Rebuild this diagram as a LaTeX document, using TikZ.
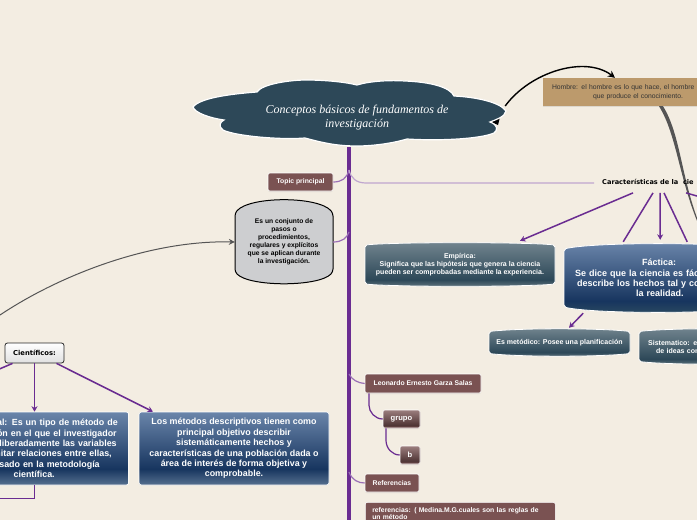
\documentclass[tikz,border=0pt]{standalone}
\usepackage{fontspec}
\setmainfont{Liberation Sans}
\newfontfamily\titlefont{Liberation Serif}
\newfontfamily\widefont{DejaVu Sans}
\usetikzlibrary{arrows.meta,shadows}

\definecolor{paper}{HTML}{F3EDE2}
\definecolor{spine}{HTML}{6A2C91}
\definecolor{spinelight}{HTML}{9A6FB5}
\definecolor{branchpale}{HTML}{BFA6CF}
\definecolor{cloudblue}{HTML}{2D4858}
\definecolor{slatetop}{HTML}{71848E}
\definecolor{slatelow}{HTML}{62767F}
\definecolor{wood}{HTML}{BC9A6C}
\definecolor{brownbox}{HTML}{7A5252}
\definecolor{drum}{HTML}{CDCED0}
\definecolor{curvegray}{HTML}{555555}
\definecolor{navy}{HTML}{17355F}
\definecolor{navytop}{HTML}{6A85AA}
\definecolor{navylow}{HTML}{56708F}
\definecolor{factlow}{HTML}{2B4A60}

\pgfdeclareverticalshading{slateshade}{100bp}{
  color(0bp)=(slatelow); color(25bp)=(slatelow); color(33bp)=(cloudblue); color(75bp)=(slatetop); color(100bp)=(slatetop)}
\pgfdeclareverticalshading{factshade}{100bp}{
  color(0bp)=(factlow); color(25bp)=(factlow); color(34bp)=(navy); color(75bp)=(navytop); color(100bp)=(navytop)}
\pgfdeclareverticalshading{cardshade}{100bp}{
  color(0bp)=(navylow); color(25bp)=(navylow); color(36bp)=(navy); color(75bp)=(navytop); color(100bp)=(navytop)}
\pgfdeclareverticalshading{grupshade}{100bp}{
  color(0bp)=(brownbox); color(25bp)=(brownbox); color(33bp)=(brownbox!65!black); color(75bp)=(brownbox!75!white); color(100bp)=(brownbox!75!white)}
\pgfdeclareverticalshading{knobshade}{100bp}{
  color(0bp)=(black!12); color(25bp)=(black!12); color(75bp)=(white); color(100bp)=(white)}

% lens with bowed top and bottom; the text node goes on top of it
\newcommand{\lensbody}[6]{
  \shade[shading=#6,draw=white,line width=.8pt,rounded corners=2pt]
    (#1,#2+#5) .. controls (#1+30,#2) and (#3-30,#2) .. (#3,#2+#5)
    -- (#3,#4-#5) .. controls (#3-30,#4) and (#1+30,#4) .. (#1,#4-#5) -- cycle;
}

\tikzset{
  trunk/.style={draw=spine,line width=3.7pt},
  branch/.style={draw=spinelight,line width=1.2pt},
  subbranch/.style={draw=spine,line width=1.2pt},
  link/.style={draw=spine,line width=1.5pt,-{Stealth[length=5.5pt,width=6pt]}},
  plainlink/.style={draw=spine,line width=1.5pt},
  topicbox/.style={draw=white,line width=.6pt,fill=brownbox,rounded corners=2pt,text=white,
    font=\fontsize{6.8}{8}\selectfont\bfseries,inner sep=0pt,
    drop shadow={opacity=.15,shadow xshift=0pt,shadow yshift=-1pt}},
  lenstext/.style={text=white,font=\fontsize{7}{8}\selectfont\bfseries,inner sep=0pt,align=center},
  cardbox/.style={draw=white,line width=.6pt,shading=cardshade,rounded corners=2.5pt,text=white,
    font=\fontsize{8.9}{10.4}\selectfont\bfseries,inner ysep=0pt},
}

\begin{document}
\begin{tikzpicture}[x=1pt,y=-1pt]
  \useasboundingbox (0,0) rectangle (697,520);
  \clip (0,0) rectangle (697,520);
  \fill[paper] (0,0) rectangle (697,520);

  \coordinate (spinebot) at (349,522);
  \coordinate (offleft) at (0,315);
  \coordinate (offright) at (700,228);
  \coordinate (jtopic) at (349,170);
  \coordinate (jdrum) at (349,232);
  \coordinate (jleonardo) at (349,374);
  \coordinate (jrefs) at (349,472);

  % cloud
  \fill[black] (489,121) -- (500,117) -- (498,125) -- cycle;
  \path[fill=cloudblue,draw=white,line width=1.2pt]
    (193,107) .. controls (200,98) and (230,94) .. (257,92)
    .. controls (262,84) and (290,80) .. (306,80)
    .. controls (325,80) and (345,82) .. (357,85)
    .. controls (370,81) and (390,80) .. (405,81)
    .. controls (430,82) and (450,87) .. (454,96)
    .. controls (475,97) and (500,102) .. (506,111)
    .. controls (505,117) and (495,120) .. (490,122)
    .. controls (498,125) and (498,130) .. (494,133)
    .. controls (480,139) and (440,141) .. (407,139)
    .. controls (390,144) and (370,146) .. (357,146)
    .. controls (335,146) and (320,142) .. (305,138)
    .. controls (280,140) and (235,136) .. (223,130)
    .. controls (218,126) and (220,122) .. (224,120)
    .. controls (210,118) and (195,113) .. (193,107) -- cycle;
  \node[text=white,align=center,inner sep=0pt,minimum width=296pt,minimum height=59pt,
    font=\titlefont\itshape\fontsize{12}{13.6}\selectfont] (cloud) at (357,117.5)
    {Conceptos básicos de fundamentos de\\investigación};

  \draw[trunk] ([xshift=-8pt]cloud.south) -- (spinebot);

  % top right
  \node[fill=wood,inner sep=0pt,minimum width=192pt,minimum height=28pt,align=left,text width=174pt,
    text=black!80,font=\fontsize{6.8}{9}\selectfont,
    drop shadow={opacity=.2,shadow xshift=0pt,shadow yshift=-1pt}] (hombre) at (639,92)
    {Hombre: el hombre es lo que hace, el hombre\\\hspace*{41pt}que produce el conocimiento.};
  \draw[black,line width=1.4pt,-{Stealth[length=7pt,width=7pt]}]
    ([yshift=11.5pt]cloud.east) .. controls (530,72) and (585,55) .. ([xshift=-24pt]hombre.north);
  \fill[curvegray] ([xshift=20pt]hombre.south) .. controls (677,135) and (679,180) .. (offright)
    -- ++(1,0) .. controls (681,180) and (681,135) .. ([xshift=24pt]hombre.south) -- cycle;

  % left part of the trunk
  \node[topicbox,minimum width=65pt,minimum height=18pt] (topic) at (300.5,182) {Topic principal};
  \draw[branch] (topic.east) .. controls (342,182) and (347,178) .. (jtopic);
  \draw[branch,draw=branchpale] (jtopic) .. controls (351,178) and (356,183) .. (366,183) -- (594,183);

  \path[fill=drum,draw=black,line width=1pt,rounded corners=3pt]
    (235,213) .. controls (250,196) and (318,196) .. (333,213) -- (333,272)
    .. controls (318,287) and (250,287) .. (235,272) -- cycle;
  \node[inner sep=0pt,minimum width=98pt,minimum height=83pt,align=center,text=black,
    font=\fontsize{6.7}{8.1}\selectfont\bfseries] (drumbox) at (284,242)
    {Es un conjunto de\\pasos o\\procedimientos,\\regulares y explícitos\\que se aplican durante\\la investigación.};
  \draw[branch] (drumbox.east) .. controls (342,242) and (347,238) .. (jdrum);
  \draw[curvegray,line width=1pt,-{Stealth[length=6pt,width=6pt]}]
    (offleft) .. controls (60,275) and (150,240) .. (drumbox.west);

  % characteristics
  \node[inner sep=0pt,anchor=west,text=black,font=\widefont\fontsize{6.6}{7}\selectfont\bfseries] (caract) at (602,182)
    {Características de la\ \ cie};

  \lensbody{365}{242}{555}{287}{3}{slateshade}
  \node[lenstext,minimum width=190pt,minimum height=45pt] (empirica) at (460,264.5)
    {Empírica:\\Significa que las hipótesis que genera la ciencia\\pueden ser comprobadas mediante la experiencia.};

  \lensbody{564}{242}{752}{314}{7}{factshade}
  \node[anchor=west,minimum width=188pt,minimum height=72pt,inner ysep=0pt,inner xsep=11pt,text width=166pt,
    align=left,text=white,font=\fontsize{9}{10.4}\selectfont\bfseries] (factica) at (564,278)
    {\hspace*{67pt}Fáctica:\\Se dice que la ciencia es fác\\\hspace*{2pt}describe los hechos tal y co\\\hspace*{61pt}la realidad.};

  \lensbody{489}{328}{630}{357}{3.5}{slateshade}
  \node[lenstext,minimum width=141pt,minimum height=29pt] (metodico) at (559.5,342.5)
    {Es metódico: Posee una planificación};

  \lensbody{639}{328}{780}{365}{3.5}{slateshade}
  \node[lenstext,anchor=west,align=left,minimum width=141pt,minimum height=37pt,inner xsep=9pt,text width=123pt] (sistematico) at (639,347)
    {Sistematico: es\\\hspace*{8pt}de ideas con};

  \draw[link] ([xshift=31pt,yshift=-8pt]caract.south west) -- ([xshift=60pt,yshift=1pt]empirica.north);
  \draw[plainlink] ([xshift=51pt,yshift=-8pt]caract.south west) -- ([xshift=-35pt]factica.north);
  \draw[link] ([xshift=58pt,yshift=-8pt]caract.south west) -- ([xshift=2pt,yshift=2pt]factica.north);
  \draw[plainlink] ([xshift=62pt,yshift=-8pt]caract.south west) -- ([xshift=29pt]factica.north);
  \draw[plainlink] ([xshift=84pt,yshift=-8pt]caract.south west) -- ++(14,4);
  \draw[link] ([xshift=-75pt,yshift=1pt]factica.south) -- ([xshift=9.5pt]metodico.north);

  % scientific methods
  \node[draw=black!85,line width=.8pt,shading=knobshade,rounded corners=2.5pt,inner sep=0pt,minimum width=59pt,minimum height=20pt,
    font=\widefont\fontsize{6.8}{7}\selectfont\bfseries,text=black] (cientificos) at (34.5,353) {Científicos:};

  \node[cardbox,anchor=east,minimum width=190pt,minimum height=73pt,inner xsep=11pt,text width=168pt,align=right] (experimental) at (129,448.5)
    {al: Es un tipo de método de\\ón en el que el investigador\kern1pt\\liberadamente las variables\kern1pt\\mitar relaciones entre ellas,\kern6pt\\sado en la metodología\kern18pt\\científica.\kern63pt};
  \node[cardbox,minimum width=190pt,minimum height=73pt,align=center] (descriptivos) at (234,448.5)
    {Los métodos descriptivos tienen como\\principal objetivo describir\\sistemáticamente hechos y\\características de una población dada o\\área de interés de forma objetiva y\\comprobable.};

  \draw[link] (cientificos.south) -- (cientificos.south |- experimental.north);
  \draw[link] ([xshift=22pt]cientificos.south) -- ([xshift=-81pt]descriptivos.north);
  \draw[plainlink] ([xshift=-22pt]cientificos.south) -- ++(-14,6);
  \draw[plainlink] (cientificos.south |- experimental.south) -- ++(0,13) -- ++(-40,0);

  % lower branches
  \node[topicbox,minimum width=116pt,minimum height=19pt] (leonardo) at (423,383.5) {Leonardo Ernesto Garza Salas};
  \node[topicbox,shading=grupshade,minimum width=37pt,minimum height=18pt,font=\fontsize{7.6}{9}\selectfont\bfseries] (grupo) at (401.5,419) {grupo};
  \node[topicbox,shading=grupshade,minimum width=20pt,minimum height=18pt,font=\fontsize{7.6}{9}\selectfont\bfseries] (bnode) at (410,455) {b};
  \node[topicbox,minimum width=54pt,minimum height=18pt] (refs) at (392,483) {Referencias};
  \node[topicbox,anchor=north west,inner xsep=7pt,inner ysep=5pt,text width=176pt,align=left,
    font=\fontsize{6.8}{7.6}\selectfont\bfseries] (refsmedina) at (365,502)
    {referencias: ( Medina.M.G.cuales son las reglas de\\un método};

  \draw[branch] (leonardo.west) .. controls (358,383) and (352,380) .. (jleonardo);
  \draw[branch] (refs.west) .. controls (358,483) and (352,480) .. (jrefs);
  \draw[subbranch] ([xshift=-54pt]leonardo.south) -- ++(0,12) .. controls (369,412) and (375,419) .. (grupo.west);
  \draw[subbranch] ([xshift=-15.5pt]grupo.south) -- ++(0,12) .. controls (386,448) and (392,455) .. (bnode.west);
\end{tikzpicture}
\end{document}
